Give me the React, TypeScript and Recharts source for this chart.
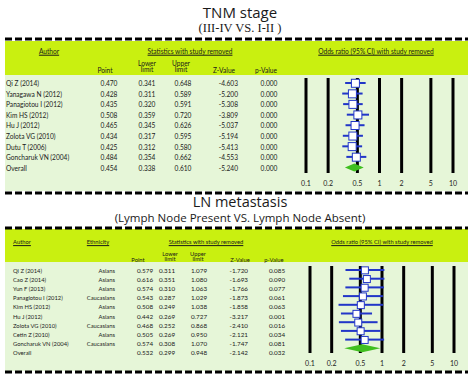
import { Bar, CartesianGrid, ComposedChart, Scatter, XAxis, YAxis } from "recharts";

const tnmAuthors = [
  "Qi Z (2014)",
  "Yanagawa N (2012)",
  "Panagiotou I (2012)",
  "Kim HS (2012)",
  "Hu J (2012)",
  "Zolota VG (2010)",
  "Dutu T (2006)",
  "Goncharuk VN (2004)",
  "Overall",
];
const tnmPoint = [0.47, 0.428, 0.435, 0.508, 0.465, 0.434, 0.425, 0.484, 0.454];
const tnmLower = [0.341, 0.311, 0.32, 0.359, 0.345, 0.317, 0.312, 0.354, 0.338];
const tnmUpper = [0.648, 0.589, 0.591, 0.72, 0.626, 0.595, 0.58, 0.662, 0.61];
const tnmZ = [-4.603, -5.2, -5.308, -3.809, -5.037, -5.194, -5.413, -4.553, -5.24];
const tnmP = [0, 0, 0, 0, 0, 0, 0, 0, 0];

const lnAuthors = [
  "Qi Z (2014)",
  "Cao Z (2014)",
  "Yun F (2013)",
  "Panagiotou I (2012)",
  "Kim HS (2012)",
  "Hu J (2012)",
  "Zolota VG (2010)",
  "Cetin Z (2010)",
  "Goncharuk VN (2004)",
  "Overall",
];
const lnEthnicity = ["Asians", "Asians", "Asians", "Caucasians", "Asians", "Asians", "Caucasians", "Asians", "Caucasians", ""];
const lnPoint = [0.579, 0.616, 0.574, 0.543, 0.508, 0.442, 0.468, 0.505, 0.574, 0.532];
const lnLower = [0.311, 0.351, 0.31, 0.287, 0.249, 0.269, 0.252, 0.269, 0.308, 0.299];
const lnUpper = [1.079, 1.08, 1.063, 1.029, 1.038, 0.727, 0.868, 0.95, 1.07, 0.948];
const lnZ = [-1.72, -1.693, -1.766, -1.873, -1.858, -3.217, -2.41, -2.121, -1.747, -2.142];
const lnP = [0.085, 0.09, 0.077, 0.061, 0.063, 0.001, 0.016, 0.034, 0.081, 0.032];

const oddsTicks = [0.1, 0.2, 0.5, 1, 2, 5, 10];

const BAND = "#c9f010";
const BODY = "#e6f6d8";
const BLUE = "#2236c8";
const FONT = "Lato, 'Liberation Sans', sans-serif";

type Row = { name: string; point: number; lower: number; upper: number; overall: boolean };

const makeRows = (names: string[], p: number[], lo: number[], up: number[]): Row[] =>
  names.map((name, i) => ({ name, point: p[i], lower: lo[i], upper: up[i], overall: name === "Overall" }));

const tnmRows = makeRows(tnmAuthors, tnmPoint, tnmLower, tnmUpper);
const lnRows = makeRows(lnAuthors, lnPoint, lnLower, lnUpper);

const CiShape = (props: any) => {
  const { x, y, width, height, payload } = props;
  if (payload.overall) {
    const cy = y + height / 2;
    const px = x + (width * Math.log(payload.point / payload.lower)) / Math.log(payload.upper / payload.lower);
    return <polygon points={`${x},${cy} ${px},${cy - 4} ${x + width},${cy} ${px},${cy + 4}`} fill="#3fbf1f" />;
  }
  return <rect x={x} y={y} width={width} height={height} fill={BLUE} />;
};

const makeSquare = (size: number) => (props: any) => {
  const { cx, cy, payload } = props;
  if (payload.overall) return <g />;
  return <rect x={cx - size / 2} y={cy - size / 2} width={size} height={size} fill="#fff" stroke={BLUE} strokeWidth={1} />;
};

type ForestProps = {
  rows: Row[];
  top: number;
  height: number;
  left: number;
  right: number;
  marginTop: number;
  square: number;
};

const Forest = ({ rows, top, height, left, right, marginTop, square }: ForestProps) => (
  <div style={{ position: "absolute", left: 0, top }}>
    <ComposedChart
      width={474}
      height={height}
      data={rows}
      layout="vertical"
      margin={{ top: marginTop, right: 474 - right, left, bottom: 0 }}
    >
      <CartesianGrid horizontal={false} stroke="#000" strokeWidth={3} />
      <XAxis
        type="number"
        scale="log"
        domain={[0.1, 10]}
        ticks={oddsTicks}
        interval={0}
        allowDataOverflow
        axisLine={false}
        tickLine={false}
        height={19}
        tick={{ fontSize: 7, fill: "#222", fontFamily: FONT }}
      />
      <YAxis type="category" dataKey="name" hide />
      <Bar dataKey={(d: Row) => [d.lower, d.upper]} barSize={2} shape={CiShape} isAnimationActive={false} />
      <Scatter dataKey="point" shape={makeSquare(square)} isAnimationActive={false} />
    </ComposedChart>
  </div>
);

type TxtProps = {
  x: number;
  y: number;
  children: React.ReactNode;
  align?: "left" | "center" | "right";
  size?: number;
  family?: string;
  u?: boolean;
};

const Txt = ({ x, y, children, align = "center", size = 6.6, family = FONT, u = false }: TxtProps) => {
  const tx = align === "left" ? "0" : align === "center" ? "-50%" : "-100%";
  return (
    <span
      style={{
        position: "absolute",
        left: x,
        top: y,
        transform: `translate(${tx}, -50%)`,
        whiteSpace: "nowrap",
        lineHeight: 1,
        fontSize: size,
        fontFamily: family,
        color: "#1a1a1a",
        textDecoration: u ? "underline" : "none",
        textAlign: "center",
      }}
    >
      {children}
    </span>
  );
};

const Dash = ({ y }: { y: number }) => (
  <line x1={5} x2={468} y1={y} y2={y} stroke="#000" strokeWidth={3} strokeDasharray="7 3" />
);

export default function App() {
  const tnmY = (i: number) => 83 + i * 10.6;
  const lnY = (i: number) => 271 + i * 9.1;
  const small = 5.8;
  const num = 6.3;
  return (
    <div style={{ position: "absolute", left: 0, top: 0, width: 474, height: 382, background: "#fff", overflow: "hidden" }}>
      {/* panel backgrounds */}
      <div style={{ position: "absolute", left: 5, top: 41, width: 463, height: 34, background: BAND }} />
      <div style={{ position: "absolute", left: 5, top: 75, width: 463, height: 116, background: BODY }} />
      <div style={{ position: "absolute", left: 5, top: 229, width: 463, height: 33, background: BAND }} />
      <div style={{ position: "absolute", left: 5, top: 262, width: 463, height: 109, background: BODY }} />

      <Txt x={240} y={12} size={15} family="'Open Sans', sans-serif">TNM stage</Txt>
      <Txt x={240} y={27.5} size={12.5} family="'Liberation Serif', serif">(III-IV VS. I-II )</Txt>
      <Txt x={240} y={202} size={14.5} family="'Open Sans', sans-serif">LN metastasis</Txt>
      <Txt x={240} y={218} size={11.5} family="'Open Sans', sans-serif">(Lymph Node Present VS. Lymph Node Absent)</Txt>

      {/* TNM table */}
      <Txt x={49} y={51} u>Author</Txt>
      <Txt x={190} y={51} u>Statistics with study removed</Txt>
      <Txt x={376} y={51} u>Odds ratio (95% CI) with study removed</Txt>
      <Txt x={105} y={70}>Point</Txt>
      <Txt x={147} y={66.5}>Lower<br />limit</Txt>
      <Txt x={181} y={66.5}>Upper<br />limit</Txt>
      <Txt x={224} y={70}>Z-Value</Txt>
      <Txt x={266} y={70}>p-Value</Txt>
      {tnmAuthors.map((a, i) => (
        <div key={a}>
          <Txt x={6} y={tnmY(i)} align="left">{a}</Txt>
          <Txt x={109} y={tnmY(i)}>{tnmPoint[i].toFixed(3)}</Txt>
          <Txt x={147} y={tnmY(i)}>{tnmLower[i].toFixed(3)}</Txt>
          <Txt x={183} y={tnmY(i)}>{tnmUpper[i].toFixed(3)}</Txt>
          <Txt x={238} y={tnmY(i)} align="right">{tnmZ[i].toFixed(3)}</Txt>
          <Txt x={269} y={tnmY(i)}>{tnmP[i].toFixed(3)}</Txt>
        </div>
      ))}

      {/* LN table */}
      <Txt x={22} y={242} size={small} u>Author</Txt>
      <Txt x={98} y={242} size={small} u>Ethnicity</Txt>
      <Txt x={206} y={242} size={small} u>Statistics with study removed</Txt>
      <Txt x={382} y={242} size={small} u>Odds ratio (95% CI) with study removed</Txt>
      <Txt x={138} y={260} size={small}>Point</Txt>
      <Txt x={170} y={256.5} size={small}>Lower<br />limit</Txt>
      <Txt x={198} y={256.5} size={small}>Upper<br />limit</Txt>
      <Txt x={240} y={260} size={small}>Z-Value</Txt>
      <Txt x={274} y={260} size={small}>p-Value</Txt>
      {lnAuthors.map((a, i) => (
        <div key={a}>
          <Txt x={13} y={lnY(i)} size={small} align="left">{a}</Txt>
          <Txt x={115} y={lnY(i)} size={small} align="right">{lnEthnicity[i]}</Txt>
          <Txt x={145} y={lnY(i)} size={num}>{lnPoint[i].toFixed(3)}</Txt>
          <Txt x={167} y={lnY(i)} size={num}>{lnLower[i].toFixed(3)}</Txt>
          <Txt x={199} y={lnY(i)} size={num}>{lnUpper[i].toFixed(3)}</Txt>
          <Txt x={248} y={lnY(i)} size={num} align="right">{lnZ[i].toFixed(3)}</Txt>
          <Txt x={277} y={lnY(i)} size={num}>{lnP[i].toFixed(3)}</Txt>
        </div>
      ))}

      <Forest rows={tnmRows} top={75} height={117} left={306} right={453} marginTop={3} square={8} />
      <Forest rows={lnRows} top={262} height={110} left={310} right={454} marginTop={4} square={7} />

      <svg width={474} height={382} style={{ position: "absolute", left: 0, top: 0, pointerEvents: "none" }}>
        <Dash y={39} />
        <Dash y={193} />
        <Dash y={228} />
        <Dash y={372} />
      </svg>
    </div>
  );
}
